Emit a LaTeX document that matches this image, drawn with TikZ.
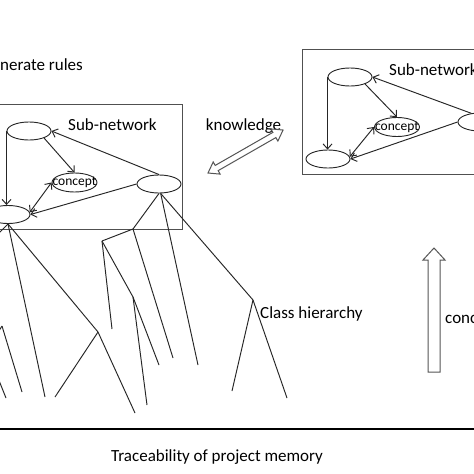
\documentclass[tikz,border=0pt]{standalone}
\usepackage{fontspec}
\setmainfont{Carlito}
\usetikzlibrary{arrows.meta,shapes.geometric}
\definecolor{linec}{HTML}{262626}
\definecolor{boxc}{HTML}{505050}
\definecolor{hollowc}{HTML}{555555}
\begin{document}
\begin{tikzpicture}[x=1pt,y=-1pt,
  ell/.style={draw=linec, line width=0.9pt, ellipse, minimum width=44pt, minimum height=18pt, inner sep=0pt},
  small/.style={font=\fontsize{13.5}{13.5}\selectfont, inner sep=0pt},
  conn/.style={draw=linec, line width=0.95pt},
  arr/.style={conn, -{Straight Barb[length=5pt,width=9pt]}},
  darr/.style={conn, {Straight Barb[length=5pt,width=9pt]}-{Straight Barb[length=5pt,width=9pt]}},
  tree/.style={draw=linec, line width=0.95pt},
  lbl/.style={font=\fontsize{17}{17}\selectfont, inner sep=0pt, text=black},
  netbox/.style={draw=boxc, line width=1.3pt, rectangle, inner sep=0pt, anchor=north west, minimum width=201pt, minimum height=125pt},
  hollow/.style={draw=hollowc, line width=1pt, fill=white, line join=miter}]
\useasboundingbox (0,0) rectangle (474,474);
\clip (0,0) rectangle (474,474);
\fill[white] (0,0) rectangle (474,474);

% boxes
\node[netbox] (box1) at (-19,104) {};
\node[netbox] (box2) at (302,49) {};

% labels
\node[lbl, anchor=base east] (gen) at (83,70) {Generate rules};
\node[lbl, anchor=base west] (sub1) at (68,130) {Sub-network};
\node[lbl, anchor=base west] (sub2) at (389,75) {Sub-network};
\node[lbl, anchor=base] (know) at (243.5,130.5) {knowledge};
\node[lbl, anchor=base west] (cls) at (260,318) {Class hierarchy};
\node[lbl, anchor=base west] (conc) at (445,323) {concept};
\node[lbl, anchor=base] (trace) at (217,461) {Traceability of project memory};

% left sub-network
\node[ell] (A) at (29,131) {};
\node[ell, minimum width=45pt, minimum height=19pt] (K) at (74.5,182.5) {};
\node[small] (Kt) at (K) {concept};
\node[ell] (C) at (159,184) {};
\node[ell] (B) at (8,214.5) {};
\draw[arr] (A.west) -- (A.west |- B.north);
\draw[arr] (A.-25) -- (K.north);
\draw[darr] (K.west) -- (B.6);
\draw[arr] (C.north) -- (A.east);
\draw[arr] (C.west) -- (B.east);

% right sub-network
\node[ell] (A2) at (350,77) {};
\node[ell, minimum width=45pt, minimum height=19pt] (K2) at (397,127) {};
\node[small] (K2t) at (K2) {concept};
\node[ell] (B2) at (328,159) {};
\node[ell] (C2) at (480,122) {};
\draw[arr] (A2.west) -- (A2.west |- B2.north);
\draw[arr] (A2.-25) -- (K2.north);
\draw[darr] (K2.west) -- (B2.6);
\draw[arr] (C2.135) -- (A2.east);
\draw[arr] (C2.west) -- (B2.east);

% class hierarchy
\coordinate (t1) at (133,229);
\coordinate (t2) at (102,241);
\coordinate (t3) at (133,297);
\coordinate (t4) at (253,300);
\coordinate (t5) at (98,332);
\coordinate (t6) at (2,326);
\coordinate (e1) at (112,329);
\coordinate (e2) at (159,365);
\coordinate (e3) at (147,405);
\coordinate (e4) at (173,358);
\coordinate (e5) at (198,365);
\coordinate (e6) at (232,391);
\coordinate (e7) at (287,398);
\coordinate (e8) at (55,397);
\coordinate (e9) at (135,413);
\coordinate (e10) at (45,397);
\coordinate (e11) at (-8,240);
\coordinate (e12) at (22,392);
\coordinate (e13) at (-8,342);
\coordinate (e14) at (-4,373);
\coordinate (e15) at (6,398);
\draw[tree] (C.south) -- (t1);
\draw[tree] (t1) -- (t2);
\draw[tree] (t2) -- (e1);
\draw[tree] (t2) -- (t3);
\draw[tree] (t3) -- (e2);
\draw[tree] (t3) -- (e3);
\draw[tree] (t1) -- (e4);
\draw[tree] (C.-80) -- (e5);
\draw[tree] (C.-80) -- (t4);
\draw[tree] (t4) -- (e6);
\draw[tree] (t4) -- (e7);
\draw[tree] (B.south) -- (e11);
\draw[tree] (B.south) -- (t5);
\draw[tree] (t5) -- (e8);
\draw[tree] (t5) -- (e9);
\draw[tree] (B.south) -- (e10);
\draw[tree] (t6) -- (e12);
\draw[tree] (t6) -- (e13);
\draw[tree] (e14) -- (e15);

% hollow arrows
\coordinate (k1) at (208,173);
\begin{scope}[shift={(k1)}, rotate=29.8]
\draw[hollow] (0,0) -- (10,7) -- (10,3) -- (76.5,3) -- (76.5,7) -- (86.5,0) -- (76.5,-7) -- (76.5,-3) -- (10,-3) -- (10,-7) -- cycle;
\end{scope}
\draw[hollow] (428,372) -- (428,260) -- (423,260) -- (434,248) -- (445,260) -- (440,260) -- (440,372) -- cycle;

% baseline
\coordinate (L1) at (0,429);
\coordinate (L2) at (474,429);
\draw[line width=2pt, black] (L1) -- (L2);
\end{tikzpicture}
\end{document}
